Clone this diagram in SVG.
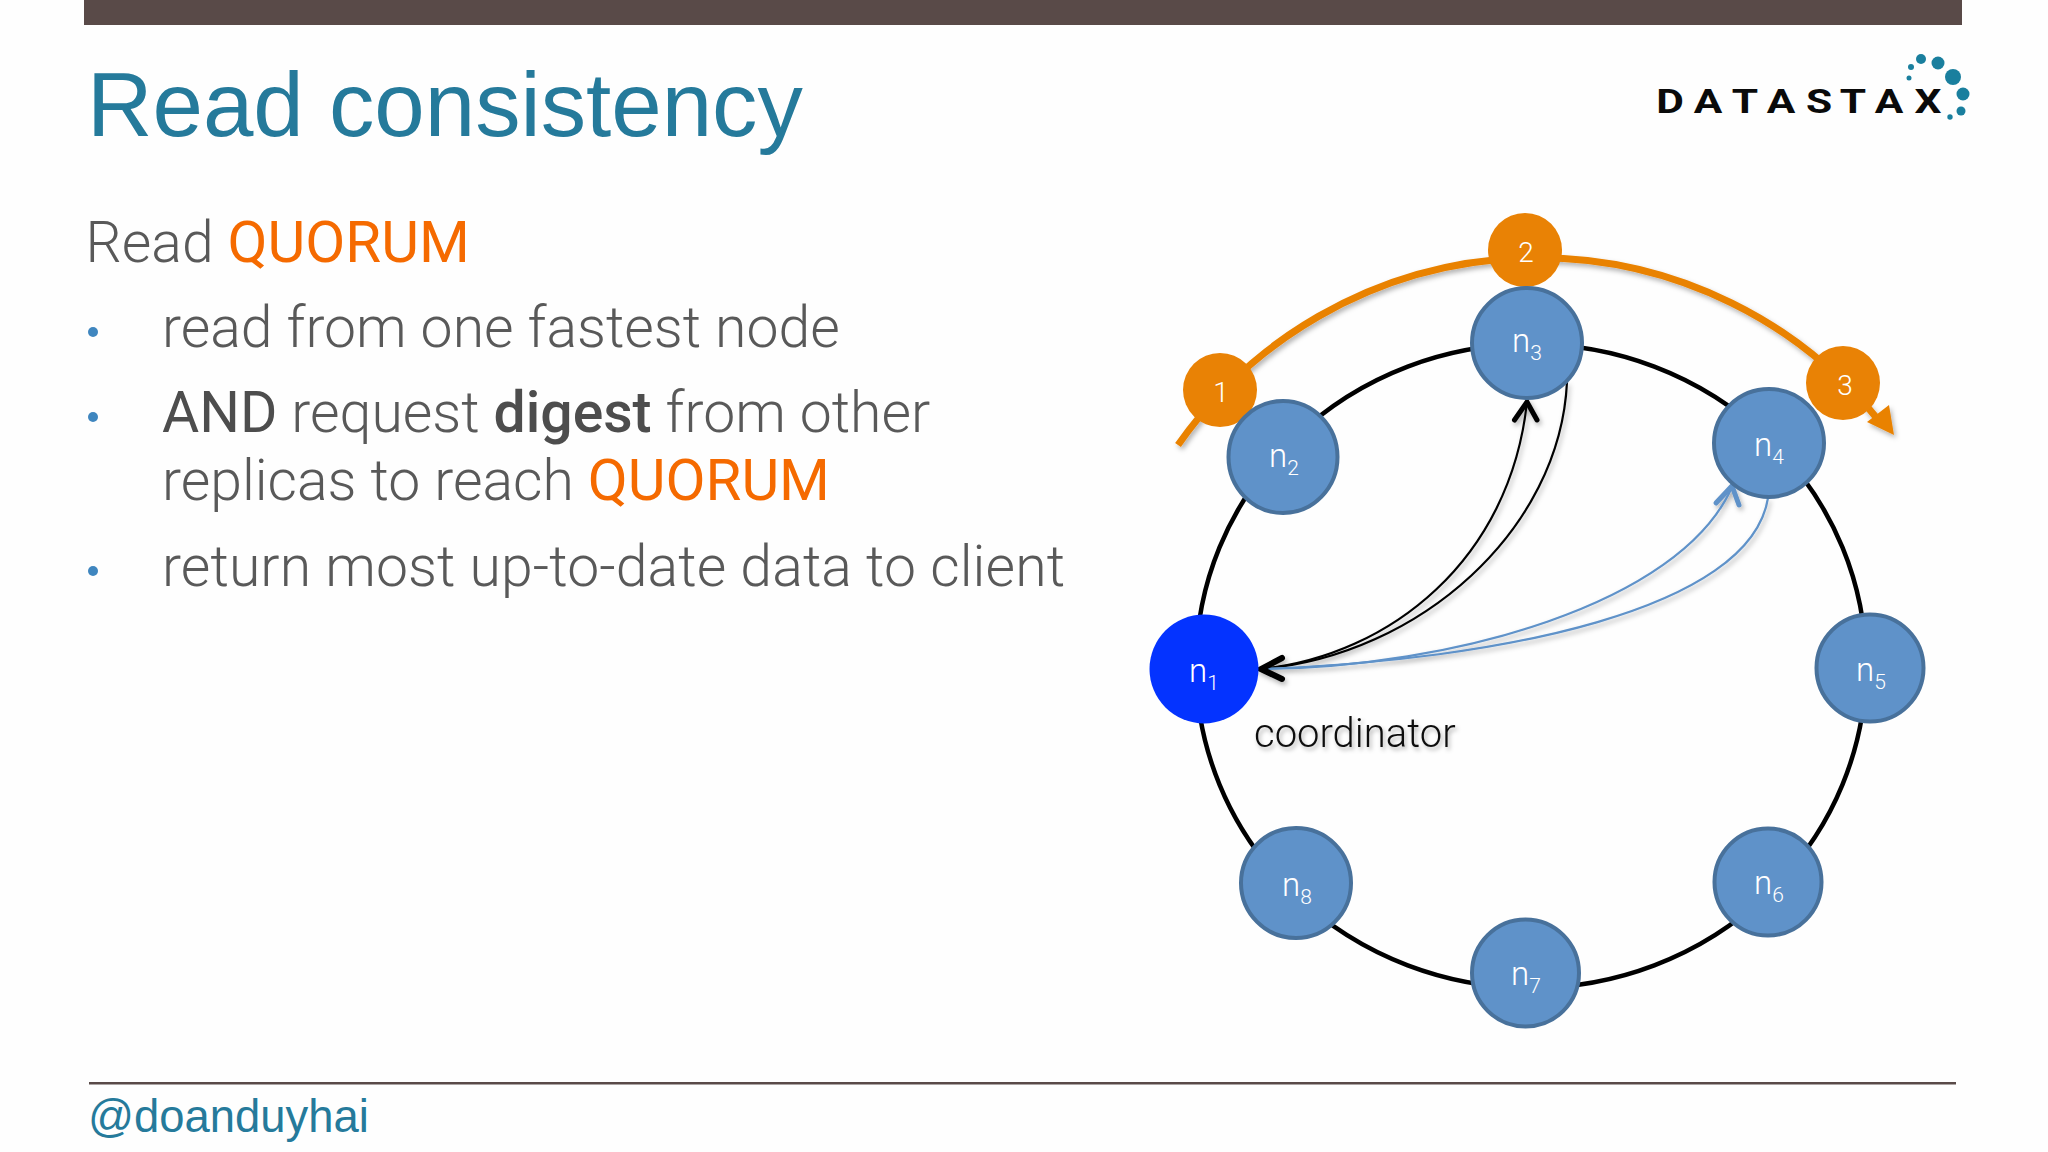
<svg xmlns="http://www.w3.org/2000/svg" width="2048" height="1152" viewBox="0 0 2048 1152">
<defs>
<filter id="soft" x="-10%" y="-10%" width="120%" height="130%"><feDropShadow dx="2" dy="3" stdDeviation="2.5" flood-color="#000" flood-opacity="0.3"/></filter>
<filter id="tshadow" x="-10%" y="-20%" width="120%" height="150%"><feDropShadow dx="2" dy="3" stdDeviation="2" flood-color="#000" flood-opacity="0.3"/></filter>
</defs>
<style>
text{font-family:"Roboto","Liberation Sans",sans-serif}
.title{font-family:"Liberation Sans",Arial,sans-serif;font-size:90.7px;fill:#257a9b}
.body{font-size:57.1px;font-weight:300;fill:#595959}
.q{fill:#f56a00;font-weight:400;font-size:58.2px}
.dark{font-weight:400;fill:#4d4d4d}
.bold{font-weight:500;fill:#4d4d4d}
.dot{fill:#3f86bf}
.foot{font-family:"Liberation Sans",Arial,sans-serif;font-size:45.4px;fill:#257a9b}
.node{fill:#5f92c9;stroke:#48719b;stroke-width:4}
.badge{fill:#e98205}
.nl{font-size:33px;font-weight:300;fill:#fff}
.sub{font-size:21px}
.bl{font-size:28px;font-weight:300;fill:#fff;text-anchor:middle}
.logo{fill:#1a7f9e}
.ring{fill:none;stroke:#000;stroke-width:4.5}
.blk{fill:none;stroke:#000;stroke-width:2.2}
.blu{fill:none;stroke:#5f92c9;stroke-width:2.2}
</style>
<rect width="2048" height="1152" fill="#fefefe"/>
<rect x="84" y="0" width="1878" height="25" fill="#594a48"/>
<text class="title" x="87" y="136">Read consistency</text>
<text class="body" x="85.5" y="262">Read <tspan class="q">QUORUM</tspan></text>
<circle class="dot" cx="93" cy="332" r="5"/>
<text class="body" x="162" y="347">read from one fastest node</text>
<circle class="dot" cx="93" cy="417" r="5"/>
<text class="body" x="162" y="432"><tspan class="dark">AND</tspan> request <tspan class="bold">digest</tspan> from other</text>
<text class="body" x="162" y="500">replicas to reach <tspan class="q">QUORUM</tspan></text>
<circle class="dot" cx="93" cy="571" r="5"/>
<text class="body" x="162" y="586" textLength="903" lengthAdjust="spacing">return most up-to-date data to client</text>
<rect x="89" y="1082" width="1867" height="2.5" fill="#594a48"/>
<text class="foot" x="88" y="1132">@doanduyhai</text>
<g id="logo">
<text transform="translate(0,113) scale(1.25,1)" y="0" x="1336,1366.4,1396,1424.8,1455.2,1482.4,1511.2,1542.4" font-size="34" font-weight="700" text-anchor="middle" fill="#0a0a0a">DATASTAX</text>
<circle class="logo" cx="1921" cy="59" r="5"/><circle class="logo" cx="1938" cy="63" r="6.5"/><circle class="logo" cx="1953" cy="77" r="8"/><circle class="logo" cx="1963" cy="94" r="6.5"/><circle class="logo" cx="1961" cy="111" r="4.5"/><circle class="logo" cx="1950" cy="117" r="2.7"/><circle class="logo" cx="1911" cy="67" r="3"/><circle class="logo" cx="1909" cy="78" r="2.5"/>
</g>
<g id="connectors">
<ellipse class="ring" cx="1531" cy="666" rx="335" ry="322"/>
<g filter="url(#soft)">
<path d="M1178 445A439 439 0 0 1 1880 422" fill="none" stroke="#e98205" stroke-width="7"/>
<polygon points="1894,435 1889,405 1867,422" fill="#e98205"/>
</g>
<g filter="url(#soft)">
<path class="blk" d="M1262 669C1390 655 1510 560 1527 402"/>
<path class="blk" d="M1262 669C1420 655 1560 530 1567 382"/>
<path d="M1514.5 420L1527 402L1537 420" fill="none" stroke="#000" stroke-width="5" stroke-linecap="round"/>
<path class="blu" d="M1262 669C1450 667 1680 605 1732 487"/>
<path class="blu" d="M1262 669C1500 660 1750 610 1768 498"/>
<path d="M1716 503L1732 486L1739 505" fill="none" stroke="#5f92c9" stroke-width="5" stroke-linecap="round"/>
<path d="M1282 658L1261 669L1282 679" fill="none" stroke="#000" stroke-width="6" stroke-linecap="round"/>
</g>
</g>
<g id="badge1"><circle class="badge" cx="1220" cy="390" r="37"/><text class="bl" x="1221" y="402">1</text></g>
<g id="badge2"><circle class="badge" cx="1525" cy="250" r="37"/><text class="bl" x="1526" y="262">2</text></g>
<g id="badge3"><circle class="badge" cx="1843" cy="383" r="37"/><text class="bl" x="1845" y="395">3</text></g>
<g id="n1"><circle cx="1204" cy="669" r="54.5" fill="#0433ff"/><text class="nl" x="1189" y="682">n<tspan class="sub" dy="8">1</tspan></text></g>
<g id="n2"><ellipse class="node" cx="1283" cy="457" rx="54.5" ry="56"/><text class="nl" x="1269" y="467">n<tspan class="sub" dy="8">2</tspan></text></g>
<g id="n3"><circle class="node" cx="1527" cy="343" r="55"/><text class="nl" x="1512" y="352">n<tspan class="sub" dy="8">3</tspan></text></g>
<g id="n4"><ellipse class="node" cx="1769" cy="443" rx="55" ry="54"/><text class="nl" x="1754" y="456">n<tspan class="sub" dy="8">4</tspan></text></g>
<g id="n5"><circle class="node" cx="1870" cy="668" r="53.5"/><text class="nl" x="1856" y="681">n<tspan class="sub" dy="8">5</tspan></text></g>
<g id="n6"><circle class="node" cx="1768" cy="882" r="53.5"/><text class="nl" x="1754" y="894">n<tspan class="sub" dy="8">6</tspan></text></g>
<g id="n7"><circle class="node" cx="1525.5" cy="973" r="53.5"/><text class="nl" x="1511" y="985">n<tspan class="sub" dy="8">7</tspan></text></g>
<g id="n8"><circle class="node" cx="1296" cy="883" r="55"/><text class="nl" x="1282" y="896">n<tspan class="sub" dy="8">8</tspan></text></g>
<text x="1254" y="747" font-size="40" font-weight="300" fill="#111" filter="url(#tshadow)">coordinator</text>
</svg>
